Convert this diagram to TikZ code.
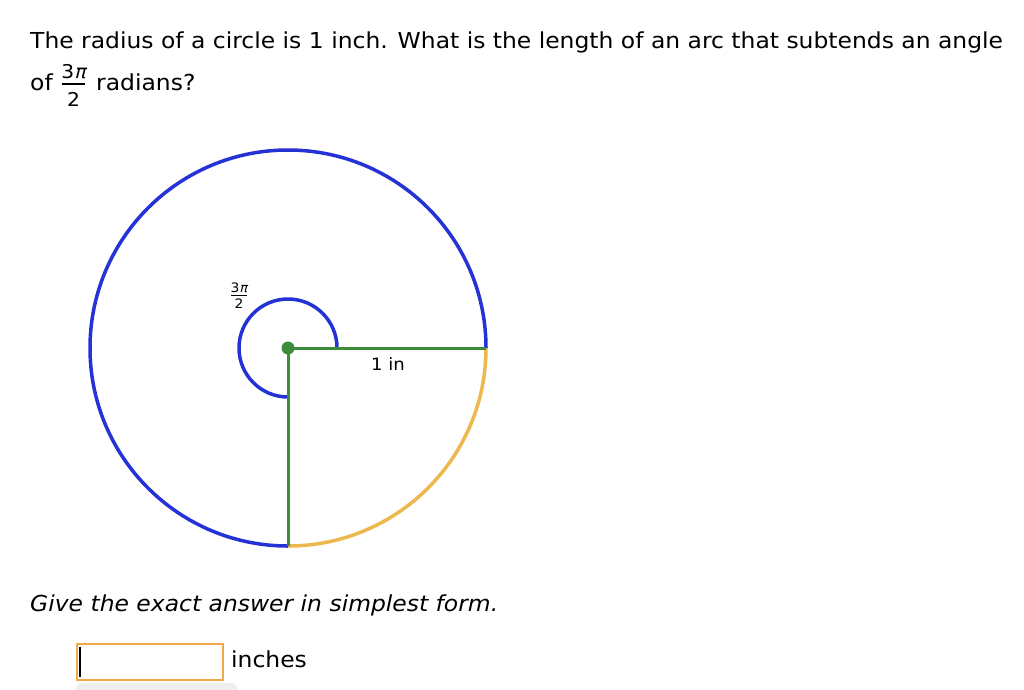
\documentclass[tikz,border=0pt]{standalone}
\usepackage{fontspec}
\setmainfont{DejaVu Sans}[FakeStretch=1.065]
\newfontfamily\pifont{DejaVu Sans}[FakeSlant=0.25]
\definecolor{arcblue}{HTML}{2432D6}
\definecolor{radgreen}{HTML}{3C8C3C}
\definecolor{arcorange}{HTML}{EDB84E}
\definecolor{boxorange}{HTML}{F0A848}
\definecolor{btngray}{HTML}{EFEFEF}
\begin{document}
\begin{tikzpicture}[x=1pt,y=-1pt,
  txt/.style={inner sep=0pt, anchor=base west, font=\fontsize{22}{26}\selectfont},
  fracpart/.style={inner sep=0pt, anchor=base, font=\fontsize{19}{22}\selectfont},
  smallfrac/.style={inner sep=0pt, anchor=base, font=\fontsize{13}{15}\selectfont},
  bluearc/.style={draw=arcblue, line width=3.5pt},
  orangearc/.style={draw=arcorange, line width=3.5pt},
  greenline/.style={draw=radgreen, line width=3pt},
  lbl/.style={inner sep=0pt, anchor=base, font=\fontsize{17}{20}\selectfont}]
\useasboundingbox[fill=white] (0,0) rectangle (1024,689);

% question text
\node[txt] (q1) at (30,48) {The radius of a circle is 1 inch. What is the length of an arc that subtends an angle};
\node[txt] (q2) at (30,90) {of};
\node[fracpart] (qn) at (73.5,78) {3{\pifont π}};
\node[fracpart] (qd) at (73.5,106) {2};
\draw[line width=1.2pt] (62,84) -- (85,84);
\node[txt] (q3) at (96,90) {radians?};

% circle
\coordinate (R) at (486,348);
\coordinate (B) at (288,546);
\coordinate (r0) at (337,348);
\draw[bluearc] (R) arc[start angle=0, end angle=-270, radius=198];
\draw[orangearc] (B) arc[start angle=90, end angle=0, radius=198];
\draw[bluearc] (r0) arc[start angle=0, end angle=-270, radius=49];
\draw[greenline] (288,348) -- (R);
\draw[greenline] (288,348) -- (B);
\node[circle, fill=radgreen, inner sep=0pt, minimum size=13pt] (c) at (288,348) {};

% labels
\node[lbl] (len) at (388,370) {1 in};
\node[smallfrac] (an) at (239,292) {3{\pifont π}};
\node[smallfrac] (ad) at (239,308) {2};
\draw[line width=0.9pt] (231,295.5) -- (247,295.5);

% instruction
\node[txt, font=\fontsize{22}{26}\selectfont\itshape] (ins) at (30,611) {Give the exact answer in simplest form.};

% answer box
\fill[btngray, rounded corners=6pt] (76,683) rectangle (237,705);
\node[draw=boxorange, line width=1.5pt, fill=white, inner sep=0pt, minimum width=146pt, minimum height=36pt, anchor=north west] (box) at (76,643) {};
\draw[line width=1.6pt] (80,647) -- (80,677);
\node[txt] (unit) at (231,667) {inches};
\end{tikzpicture}
\end{document}
